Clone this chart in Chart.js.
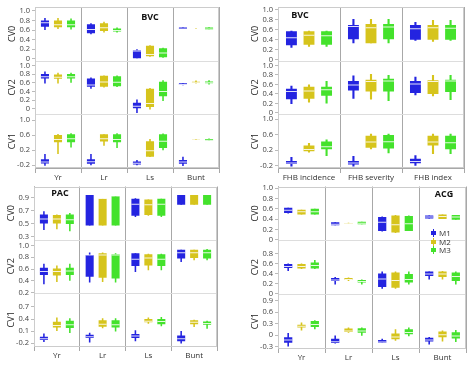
<!DOCTYPE html>
<html lang="en">
<head>
<meta charset="UTF-8">
<title>Prediction accuracy box plots</title>
<script src="https://cdn.jsdelivr.net/npm/chart.js@4.4.1/dist/chart.umd.min.js"></script>
<style>
body{margin:0;background:#fff;width:474px;height:366px;position:relative;overflow:hidden;font-family:'Open Sans',sans-serif;}
.panel{position:absolute;}
.ttl{position:absolute;font-weight:bold;font-size:9px;color:#111;transform:translate(-50%,-50%);}
.leg{position:absolute;left:430px;top:229px;font-size:8px;color:#333;line-height:8.5px;}
.leg div{position:relative;padding-left:9px;}
.leg i{position:absolute;left:1px;top:2px;width:5px;height:4px;}
.leg i:after{content:'';position:absolute;left:2px;top:-2px;width:1px;height:8px;background:inherit;}
</style>
</head>
<body>
<div class="panel" style="left:0;top:0;width:222px;height:185px"><canvas id="p1"></canvas></div>
<div class="panel" style="left:240px;top:0;width:227px;height:185px"><canvas id="p2"></canvas></div>
<div class="panel" style="left:0;top:180px;width:220px;height:183px"><canvas id="p3"></canvas></div>
<div class="panel" style="left:240px;top:180px;width:229px;height:185px"><canvas id="p4"></canvas></div>
<div class="ttl" style="left:150px;top:16px">BVC</div>
<div class="ttl" style="left:300px;top:14px">BVC</div>
<div class="ttl" style="left:60px;top:192px">PAC</div>
<div class="ttl" style="left:444px;top:193px">ACG</div>
<div class="leg">
  <div><i style="background:#2424e0"></i>M1</div>
  <div><i style="background:#d6c41c"></i>M2</div>
  <div><i style="background:#44e22c"></i>M3</div>
</div>
<script>
// categories
const models = ['M1', 'M2', 'M3'];
const rowNames = ['CV0', 'CV2', 'CV1'];
const rustTraits = ['Yr', 'Lr', 'Ls', 'Bunt'];
const fhbTraits = ['FHB incidence', 'FHB severity', 'FHB index'];

// box stats per model, per trait: [min, q1, median, q3, max]
// panel 1 - BVC, rust/bunt
const p1CV0 = [
  [[0.60,0.67,0.76,0.80,0.85],[0.51,0.53,0.62,0.72,0.74],[0.00,0.01,0.17,0.18,0.20],[0.62,0.62,0.63,0.65,0.65]],
  [[0.62,0.66,0.72,0.80,0.85],[0.55,0.58,0.66,0.74,0.77],[0.04,0.05,0.10,0.27,0.28],[0.62,0.63,0.63,0.63,0.64]],
  [[0.61,0.66,0.72,0.80,0.84],[0.55,0.57,0.60,0.63,0.65],[0.02,0.03,0.13,0.22,0.23],[0.61,0.61,0.63,0.65,0.66]]
];
const p1CV2 = [
  [[0.58,0.70,0.75,0.80,0.86],[0.46,0.51,0.56,0.70,0.72],[-0.10,0.00,0.07,0.14,0.21],[0.54,0.55,0.57,0.59,0.59]],
  [[0.58,0.69,0.74,0.79,0.83],[0.49,0.51,0.63,0.76,0.77],[-0.02,0.04,0.13,0.46,0.48],[0.58,0.60,0.61,0.62,0.65]],
  [[0.60,0.70,0.75,0.80,0.83],[0.50,0.52,0.62,0.75,0.77],[0.18,0.29,0.41,0.62,0.66],[0.56,0.59,0.61,0.63,0.66]]
];
const p1CV1 = [
  [[-0.21,-0.15,-0.10,-0.04,0.10],[-0.20,-0.16,-0.09,-0.04,0.10],[-0.20,-0.18,-0.13,-0.10,-0.06],[-0.22,-0.16,-0.10,-0.06,0.03]],
  [[0.10,0.41,0.50,0.60,0.63],[0.32,0.43,0.52,0.62,0.62],[0.02,0.03,0.20,0.44,0.50],[0.47,0.47,0.48,0.48,0.49]],
  [[0.27,0.41,0.52,0.62,0.65],[0.26,0.41,0.50,0.62,0.65],[0.20,0.26,0.45,0.62,0.64],[0.45,0.46,0.48,0.50,0.51]]
];
// panel 2 - BVC, FHB
const p2CV0 = [
  [[0.24,0.29,0.45,0.57,0.58],[0.33,0.41,0.68,0.70,0.82],[0.38,0.40,0.63,0.70,0.76]],
  [[0.26,0.30,0.50,0.57,0.58],[0.33,0.33,0.65,0.72,0.82],[0.36,0.40,0.65,0.70,0.80]],
  [[0.26,0.30,0.49,0.57,0.58],[0.33,0.41,0.67,0.72,0.82],[0.38,0.40,0.64,0.70,0.80]]
];
const p2CV2 = [
  [[0.19,0.29,0.46,0.51,0.57],[0.30,0.47,0.60,0.67,0.79],[0.37,0.42,0.62,0.67,0.76]],
  [[0.22,0.30,0.47,0.55,0.60],[0.28,0.45,0.67,0.70,0.82],[0.35,0.40,0.67,0.69,0.80]],
  [[0.20,0.36,0.50,0.55,0.67],[0.25,0.45,0.68,0.72,0.80],[0.27,0.44,0.68,0.70,0.80]]
];
const p2CV1 = [
  [[-0.22,-0.16,-0.12,-0.08,0.02],[-0.22,-0.17,-0.12,-0.08,0.05],[-0.20,-0.14,-0.08,-0.02,0.07]],
  [[0.14,0.17,0.23,0.32,0.38],[0.22,0.26,0.42,0.57,0.62],[0.10,0.32,0.42,0.57,0.62]],
  [[0.05,0.22,0.30,0.42,0.47],[0.12,0.24,0.43,0.59,0.62],[0.10,0.22,0.40,0.57,0.62]]
];
// panel 3 - PAC
const p3CV0 = [
  [[0.40,0.50,0.56,0.64,0.69],[0.47,0.47,0.94,0.94,0.94],[0.60,0.62,0.79,0.88,0.89],[0.79,0.79,0.94,0.94,0.94]],
  [[0.41,0.50,0.56,0.63,0.64],[0.47,0.47,0.88,0.88,0.88],[0.62,0.63,0.78,0.87,0.87],[0.79,0.79,0.94,0.94,0.94]],
  [[0.38,0.49,0.55,0.64,0.66],[0.47,0.47,0.92,0.92,0.92],[0.60,0.62,0.79,0.88,0.88],[0.79,0.79,0.94,0.94,0.94]]
];
const p3CV2 = [
  [[0.34,0.50,0.55,0.62,0.69],[0.37,0.47,0.83,0.84,0.88],[0.55,0.65,0.76,0.87,0.87],[0.72,0.78,0.87,0.93,0.93]],
  [[0.38,0.49,0.55,0.61,0.66],[0.38,0.45,0.83,0.87,0.88],[0.58,0.66,0.78,0.85,0.86],[0.75,0.79,0.87,0.93,0.93]],
  [[0.40,0.50,0.56,0.62,0.69],[0.37,0.44,0.83,0.85,0.87],[0.58,0.65,0.76,0.85,0.86],[0.75,0.78,0.87,0.93,0.94]]
];
const p3CV1 = [
  [[-0.17,-0.12,-0.08,-0.04,0.04],[-0.18,-0.07,-0.03,0.01,0.06],[-0.15,-0.07,-0.01,0.03,0.12],[-0.21,-0.15,-0.08,-0.01,0.10]],
  [[0.10,0.19,0.25,0.33,0.44],[0.17,0.21,0.28,0.37,0.42],[0.28,0.32,0.36,0.40,0.44],[0.20,0.27,0.33,0.37,0.38]],
  [[0.05,0.18,0.27,0.36,0.42],[0.09,0.19,0.27,0.37,0.42],[0.22,0.27,0.35,0.40,0.45],[0.16,0.26,0.30,0.34,0.36]]
];
// panel 4 - ACG
const p4CV0 = [
  [[0.51,0.52,0.58,0.62,0.62],[0.28,0.28,0.31,0.34,0.34],[0.16,0.17,0.35,0.44,0.45],[0.41,0.41,0.45,0.47,0.47]],
  [[0.49,0.49,0.55,0.58,0.58],[0.31,0.31,0.32,0.32,0.33],[0.13,0.14,0.30,0.47,0.48],[0.40,0.40,0.46,0.49,0.49]],
  [[0.49,0.49,0.55,0.60,0.60],[0.30,0.30,0.33,0.35,0.35],[0.17,0.17,0.32,0.46,0.47],[0.39,0.39,0.45,0.48,0.48]]
];
const p4CV2 = [
  [[0.45,0.51,0.55,0.59,0.60],[0.18,0.25,0.28,0.31,0.33],[0.10,0.13,0.30,0.40,0.44],[0.28,0.35,0.40,0.44,0.44]],
  [[0.49,0.50,0.55,0.59,0.60],[0.25,0.27,0.29,0.31,0.32],[0.10,0.12,0.27,0.42,0.44],[0.28,0.33,0.40,0.44,0.45]],
  [[0.49,0.50,0.57,0.62,0.67],[0.18,0.22,0.25,0.27,0.28],[0.18,0.22,0.29,0.39,0.44],[0.18,0.25,0.35,0.42,0.44]]
];
const p4CV1 = [
  [[-0.30,-0.20,-0.12,-0.06,0.05],[-0.22,-0.21,-0.16,-0.10,0.00],[-0.20,-0.20,-0.17,-0.13,-0.10],[-0.25,-0.17,-0.12,-0.07,-0.05]],
  [[0.12,0.20,0.24,0.27,0.33],[0.06,0.08,0.12,0.17,0.20],[-0.15,-0.11,-0.04,0.04,0.15],[-0.17,-0.06,0.02,0.09,0.12]],
  [[0.15,0.21,0.29,0.37,0.39],[-0.02,0.06,0.12,0.18,0.20],[-0.03,0.02,0.08,0.15,0.20],[-0.18,-0.09,-0.01,0.07,0.13]]
];

// tick labels and axis limits per row (CV0, CV2, CV1)
const p1Ticks = [[0,0.2,0.4,0.6,0.8,1.0],[0,0.2,0.4,0.6,0.8,1.0],[-0.2,0.2,0.6,1.0]];
const p2Ticks = [[0,0.2,0.4,0.6,0.8,1.0],[0,0.2,0.4,0.6,0.8,1.0],[-0.2,0.2,0.6,1.0]];
const p3Ticks = [[0.3,0.5,0.7,0.9],[0.2,0.4,0.6,0.8,1.0],[-0.2,0.1,0.4,0.7]];
const p4Ticks = [[0,0.2,0.4,0.6,0.8,1.0],[0,0.2,0.4,0.6,0.8],[-0.3,0,0.3,0.6,0.9]];
const p1Lims = [[-0.04,1.08],[-0.13,1.11],[-0.27,1.15]];
const p2Lims = [[-0.02,1.06],[-0.03,1.10],[-0.26,1.12]];
const p3Lims = [[0.25,1.07],[0.195,1.10],[-0.27,1.05]];
const p4Lims = [[-0.01,1.03],[-0.01,1.06],[-0.34,1.07]];

const colors = ['#2424e0', '#d6c41c', '#44e22c'];

// frame + row separators
const panelFrame = {
  id: 'panelFrame',
  beforeDatasetsDraw(chart) {
    const {ctx, chartArea: a} = chart;
    ctx.save();
    ctx.lineWidth = 1;
    ctx.strokeStyle = '#dddddd';
    ['y0', 'y1'].forEach(id => {
      const y = Math.round(chart.scales[id].bottom) + 0.5;
      ctx.beginPath();
      ctx.moveTo(a.left, y);
      ctx.lineTo(a.right, y);
      ctx.stroke();
    });
    ctx.strokeStyle = '#cccccc';
    ctx.strokeRect(Math.round(a.left) + 0.5, Math.round(a.top) + 0.5, Math.round(a.width) - 1, Math.round(a.height) - 1);
    ctx.restore();
  }
};

function boxPanel(id, traits, rowData, rowTicks, rowLims, pad) {
  const datasets = [];
  rowData.forEach((rd, r) => {
    rd.forEach((stats, m) => {
      const common = {yAxisID: 'y' + r, stack: models[m], categoryPercentage: 0.85};
      datasets.push(Object.assign({}, common, {
        data: stats.map(s => [s[2], s[2]]), backgroundColor: 'rgba(255,255,255,0.85)',
        barPercentage: 0.62, minBarLength: 1, order: 0
      }));
      datasets.push(Object.assign({}, common, {
        data: stats.map(s => [s[1], s[3]]), backgroundColor: colors[m],
        barPercentage: 0.62, order: 1
      }));
      datasets.push(Object.assign({}, common, {
        data: stats.map(s => [s[0], s[4]]), backgroundColor: colors[m],
        barPercentage: 0.12, order: 2
      }));
    });
  });

  const scales = {
    x: {
      grid: {offset: true, color: '#a8a8a8', tickLength: 5, drawTicks: true},
      border: {color: '#a8a8a8'},
      ticks: {font: {size: 8, family: 'Open Sans'}, color: '#333', padding: 0, maxRotation: 0, autoSkip: false},
      afterFit: s => { s.height = 17; }
    }
  };
  rowNames.forEach((name, r) => {
    scales['y' + r] = {
      type: 'linear', position: 'left', stack: 'rows', stackWeight: 1, weight: 3 - r,
      stacked: false, min: rowLims[r][0], max: rowLims[r][1],
      border: {color: '#bbbbbb'},
      grid: {drawOnChartArea: false, tickLength: 3, color: '#bbbbbb'},
      ticks: {
        font: {size: 7.5, family: 'Open Sans'}, color: '#444', padding: 2, autoSkip: false,
        callback: v => v === 0 ? '0' : v.toFixed(1)
      },
      afterBuildTicks: s => { s.ticks = rowTicks[r].map(v => ({value: v})); },
      title: {display: true, text: name, font: {size: 9, family: 'Open Sans'}, color: '#222', padding: {top: 3, bottom: 0}},
      afterFit: s => { s.width = 31; }
    };
  });

  return new Chart(document.getElementById(id), {
    type: 'bar',
    data: {labels: traits, datasets: datasets},
    options: {
      responsive: true, maintainAspectRatio: false, animation: false,
      layout: {padding: pad},
      plugins: {legend: {display: false}, tooltip: {enabled: false}},
      scales: scales
    },
    plugins: [panelFrame]
  });
}

boxPanel('p1', rustTraits, [p1CV0, p1CV2, p1CV1], p1Ticks, p1Lims, {left: 4, right: 3, top: 7, bottom: 0});
boxPanel('p2', fhbTraits, [p2CV0, p2CV2, p2CV1], p2Ticks, p2Lims, {left: 7, right: 3, top: 7, bottom: 0});
boxPanel('p3', rustTraits, [p3CV0, p3CV2, p3CV1], p3Ticks, p3Lims, {left: 3, right: 3, top: 6, bottom: 0});
boxPanel('p4', rustTraits, [p4CV0, p4CV2, p4CV1], p4Ticks, p4Lims, {left: 7, right: 3, top: 6, bottom: 0});
</script>
</body>
</html>
